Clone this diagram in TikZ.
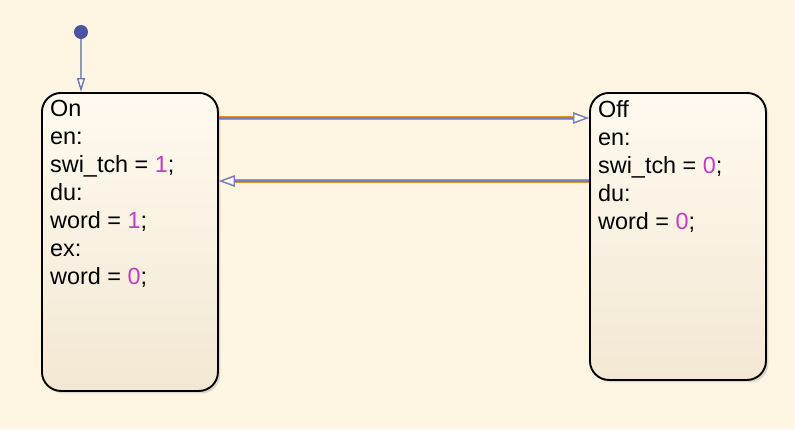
\documentclass[tikz,border=0pt]{standalone}
\usepackage{fontspec}
\setmainfont{Liberation Sans}
\usetikzlibrary{arrows.meta,shadows}

\definecolor{paper}{HTML}{FEF5E3}
\definecolor{boxtop}{HTML}{FFFAF0}
\definecolor{boxbot}{HTML}{F3E8D3}
\definecolor{numcol}{HTML}{C43CC4}
\definecolor{glow}{HTML}{E8912A}
\definecolor{transblue}{HTML}{767DC4}
\definecolor{initblue}{HTML}{4A53A0}

\newcommand{\num}[1]{\textcolor{numcol}{#1}}

\tikzset{
  state/.style={draw=black, line width=1.9pt, rounded corners=19pt,
    top color=boxtop, bottom color=boxbot, minimum width=176pt,
    drop shadow={shadow xshift=2.5pt, shadow yshift=-2.5pt, opacity=0.25},
    anchor=north west, inner sep=0pt},
  label/.style={anchor=north west, align=left, inner sep=0pt,
    font=\fontsize{23.4}{28}\selectfont,
    execute at begin node={\rule{0pt}{17pt}}},
  glowline/.style={draw=glow, line width=3.4pt,
    -{Triangle[open, length=16pt, width=11pt]}},
  transline/.style={draw=transblue, line width=1.3pt,
    -{Triangle[open, fill=white, length=16pt, width=11pt]}},
}

\begin{document}
\begin{tikzpicture}[x=1pt, y=-1pt]
  \useasboundingbox[fill=paper] (0,0) rectangle (795,429);

  % states
  \node[state, minimum height=298pt] (on) at (41,92) {};
  \node[state, minimum height=287pt] (off) at (589,92) {};

  \node[label] (ontext) at (50,100) {On\\en:\\swi\_tch = \num{1};\\du:\\word = \num{1};\\ex:\\word = \num{0};};
  \node[label] (offtext) at (598,100) {Off\\en:\\swi\_tch = \num{0};\\du:\\word = \num{0};};

  % default transition
  \node[circle, fill=initblue, minimum size=14pt, inner sep=0pt] (init) at (81,32) {};
  \draw[draw=initblue!60, line width=1.4pt,
    -{Triangle[open, fill=white, length=14pt, width=8pt, color=initblue!80]}]
    (init) -- (init |- on.north);

  % transitions
  \draw[glowline] ([yshift=-26pt]on.north east) -- ([yshift=-26pt]off.north west);
  \draw[transline] ([yshift=-26pt]on.north east) -- ([yshift=-26pt]off.north west);
  \draw[glowline] ([yshift=-89pt]off.north west) -- ([yshift=-89pt]on.north east);
  \draw[transline] ([yshift=-89pt]off.north west) -- ([yshift=-89pt]on.north east);

\end{tikzpicture}
\end{document}
